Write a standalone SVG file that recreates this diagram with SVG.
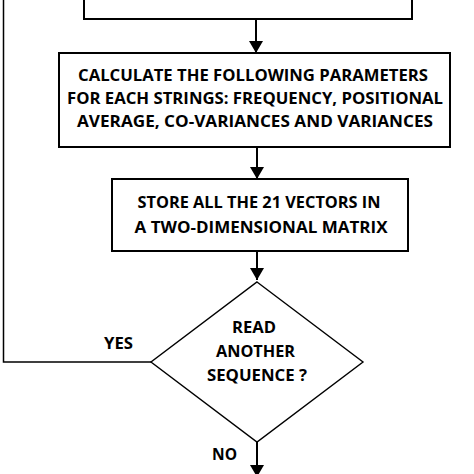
<svg xmlns="http://www.w3.org/2000/svg" width="474" height="474" viewBox="0 0 474 474">
<defs>
<style>
.box{fill:#fff;stroke:#000;stroke-width:2}
.dia{fill:#fff;stroke:#000;stroke-width:1.4}
.ln{fill:none;stroke:#000;stroke-width:2}
.loop{fill:none;stroke:#000;stroke-width:1.5}
.t{font-family:"Open Sans","Liberation Sans",sans-serif;font-weight:bold;font-size:16px;fill:#000;text-anchor:middle}
</style>
<marker id="ah" viewBox="0 0 12 14" refX="12" refY="7" markerWidth="12" markerHeight="14" markerUnits="userSpaceOnUse" orient="auto">
<path d="M0,0 L12,7 L0,14 Z" fill="#000"/>
</marker>
</defs>
<rect width="474" height="474" fill="#fff"/>
<g id="connectors">
<line class="ln" x1="256" y1="19" x2="256" y2="53" marker-end="url(#ah)"/>
<line class="ln" x1="257" y1="147" x2="257" y2="179" marker-end="url(#ah)"/>
<line class="ln" x1="257" y1="251" x2="257" y2="280" marker-end="url(#ah)"/>
<line class="ln" x1="257" y1="442" x2="257" y2="477" marker-end="url(#ah)"/>
<polyline class="loop" points="151,362 3.5,362 3.5,0"/>
<text class="t" x="118.5" y="349" textLength="29" lengthAdjust="spacingAndGlyphs">YES</text>
<text class="t" x="224.5" y="460" textLength="25" lengthAdjust="spacingAndGlyphs">NO</text>
</g>
<g id="node-top">
<rect class="box" x="84" y="-10" width="328" height="29"/>
</g>
<g id="node-calc">
<rect class="box" x="59" y="53" width="391" height="94"/>
<text class="t" x="253" y="81" textLength="350" lengthAdjust="spacingAndGlyphs">CALCULATE THE FOLLOWING PARAMETERS</text>
<text class="t" x="255" y="104" textLength="376" lengthAdjust="spacingAndGlyphs">FOR EACH STRINGS: FREQUENCY, POSITIONAL</text>
<text class="t" x="255" y="127" textLength="356" lengthAdjust="spacingAndGlyphs">AVERAGE, CO-VARIANCES AND VARIANCES</text>
</g>
<g id="node-store">
<rect class="box" x="112" y="179" width="296" height="72"/>
<text class="t" x="259" y="208" textLength="243" lengthAdjust="spacingAndGlyphs">STORE ALL THE 21 VECTORS IN</text>
<text class="t" x="261" y="233" textLength="253" lengthAdjust="spacingAndGlyphs">A TWO-DIMENSIONAL MATRIX</text>
</g>
<g id="node-decision">
<polygon class="dia" points="257,282 363,362 257,442 151,362"/>
<text class="t" x="254" y="333" textLength="44" lengthAdjust="spacingAndGlyphs">READ</text>
<text class="t" x="255.5" y="357" textLength="79" lengthAdjust="spacingAndGlyphs">ANOTHER</text>
<text class="t" x="257" y="381" textLength="100" lengthAdjust="spacingAndGlyphs">SEQUENCE ?</text>
</g>
</svg>
